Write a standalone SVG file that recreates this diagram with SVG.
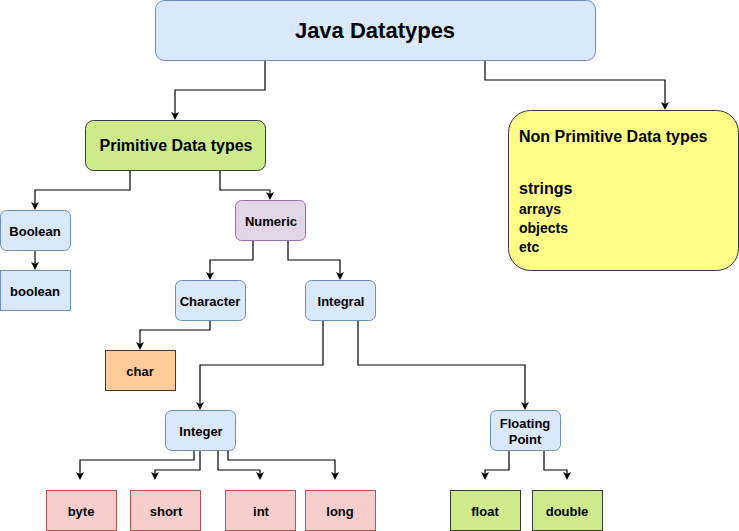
<svg xmlns="http://www.w3.org/2000/svg" width="739" height="531" viewBox="0 0 739 531">
<defs>
<marker id="a" markerWidth="8" markerHeight="8" refX="4" refY="7" orient="auto-start-reverse" viewBox="0 0 8 8" markerUnits="userSpaceOnUse"><path d="M0,0 L4,8 L8,0 L4,2 Z" fill="#000" transform="rotate(0)"/></marker>
<style>
text{font-family:"Liberation Sans",Arial,sans-serif;font-weight:bold;fill:#000;text-anchor:middle;dominant-baseline:central}
.b{fill:#dae8fc;stroke:#6c8ebf}
.p{fill:#f8cecc;stroke:#b85450}
.g{fill:#cdeb8b;stroke:#36393d}
.o{fill:#ffcc99;stroke:#36393d}
.v{fill:#e1d5e7;stroke:#9673a6}
.y{fill:#ffff88;stroke:#36393d}
.s{font-size:13px}
.c path{fill:none;stroke:#000;stroke-width:1.2}
</style>
</defs>
<rect width="739" height="531" fill="#fff"/>
<g class="c">
<path d="M265,60V90H175V118"/>
<path d="M485,60V80H665V108"/>
<path d="M130,170V190H35V208"/>
<path d="M220,170V190H270V198"/>
<path d="M35,250V268"/>
<path d="M253,240V260H210V278"/>
<path d="M288,240V260H340V278"/>
<path d="M210,320V330H140V348"/>
<path d="M323,320V365H200V408"/>
<path d="M358,320V365H525V408"/>
<path d="M194,450V460H80V478"/>
<path d="M200,450V470H155V478"/>
<path d="M218,450V470H260V478"/>
<path d="M228,450V460H335V478"/>
<path d="M509,450V470H485V478"/>
<path d="M544,450V470H567V478"/>
</g>
<g fill="#000">
<path d="M171,112L175,120L179,112L175,114Z"/><path d="M661,102L665,110L669,102L665,104Z"/>
<path d="M31,202L35,210L39,202L35,204Z"/><path d="M266,192L270,200L274,192L270,194Z"/>
<path d="M31,262L35,270L39,262L35,264Z"/><path d="M206,272L210,280L214,272L210,274Z"/>
<path d="M336,272L340,280L344,272L340,274Z"/><path d="M136,342L140,350L144,342L140,344Z"/>
<path d="M196,402L200,410L204,402L200,404Z"/><path d="M521,402L525,410L529,402L525,404Z"/>
<path d="M76,472L80,480L84,472L80,474Z"/><path d="M151,472L155,480L159,472L155,474Z"/>
<path d="M256,472L260,480L264,472L260,474Z"/><path d="M331,472L335,480L339,472L335,474Z"/>
<path d="M481,472L485,480L489,472L485,474Z"/><path d="M563,472L567,480L571,472L567,474Z"/>
</g>
<g id="java"><rect class="b" x="155.5" y="0.5" width="440" height="60" rx="9"/><text x="375" y="30" font-size="22">Java Datatypes</text></g>
<g id="prim"><rect class="g" x="85.5" y="120.5" width="180" height="50" rx="8"/><text x="176" y="145" font-size="16">Primitive Data types</text></g>
<g id="nonprim"><rect class="y" x="508.5" y="110.5" width="230" height="160" rx="22"/>
<text x="519" y="136" font-size="16" style="text-anchor:start">Non Primitive Data types</text>
<text x="519" y="188" font-size="16" style="text-anchor:start">strings</text>
<text x="519" y="209" font-size="14" style="text-anchor:start">arrays</text>
<text x="519" y="228" font-size="14" style="text-anchor:start">objects</text>
<text x="519" y="247" font-size="14" style="text-anchor:start">etc</text></g>
<g id="Boolean"><rect class="b" x="0.5" y="210.5" width="70" height="40" rx="6"/><text class="s" x="35" y="231">Boolean</text></g>
<g id="boolean"><rect class="b" x="0.5" y="270.5" width="70" height="40"/><text class="s" x="35" y="291">boolean</text></g>
<g id="numeric"><rect class="v" x="235.5" y="200.5" width="70" height="40" rx="6"/><text class="s" x="271" y="221">Numeric</text></g>
<g id="character"><rect class="b" x="175.5" y="280.5" width="70" height="40" rx="6"/><text class="s" x="210" y="301">Character</text></g>
<g id="integral"><rect class="b" x="305.5" y="280.5" width="70" height="40" rx="6"/><text class="s" x="341" y="301">Integral</text></g>
<g id="char"><rect class="o" x="105.5" y="350.5" width="70" height="40"/><text class="s" x="140" y="371">char</text></g>
<g id="integer"><rect class="b" x="165.5" y="410.5" width="70" height="40" rx="6"/><text class="s" x="201" y="431">Integer</text></g>
<g id="floating"><rect class="b" x="490.5" y="410.5" width="70" height="40" rx="6"/><text class="s" x="525" y="423">Floating</text><text class="s" x="525" y="439">Point</text></g>
<g id="byte"><rect class="p" x="46.5" y="490.5" width="70" height="40"/><text class="s" x="81" y="511">byte</text></g>
<g id="short"><rect class="p" x="130.5" y="490.5" width="70" height="40"/><text class="s" x="166" y="511">short</text></g>
<g id="int"><rect class="p" x="225.5" y="490.5" width="70" height="40"/><text class="s" x="261" y="511">int</text></g>
<g id="long"><rect class="p" x="305.5" y="490.5" width="70" height="40"/><text class="s" x="340" y="511">long</text></g>
<g id="float"><rect class="g" x="450.5" y="490.5" width="70" height="40"/><text class="s" x="485" y="511">float</text></g>
<g id="double"><rect class="g" x="532.5" y="490.5" width="70" height="40"/><text class="s" x="567" y="511">double</text></g>
</svg>
